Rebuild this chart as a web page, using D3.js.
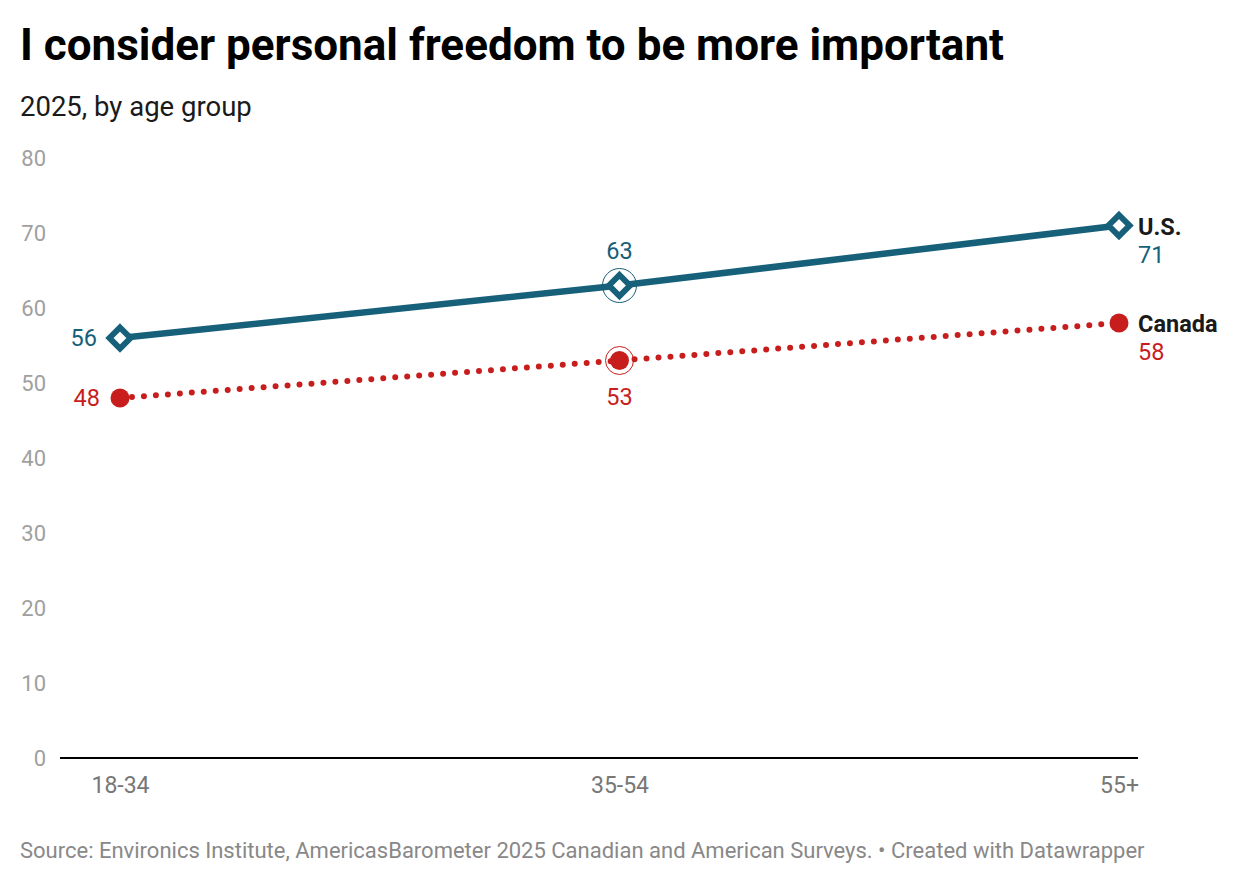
<!DOCTYPE html>
<html><head><meta charset="utf-8">
<script src="https://cdn.jsdelivr.net/npm/d3@7"></script>
<style>body{margin:0;background:#fff;font-family:Roboto,sans-serif;}</style>
</head><body>
<svg id="c" width="1240" height="884"></svg>
<script>
const categories = ["18-34","35-54","55+"];
const usValues = [56,63,71];
const canadaValues = [48,53,58];
const yTicks = [0,10,20,30,40,50,60,70,80];
const title = "I consider personal freedom to be more important";
const subtitle = "2025, by age group";
const source = "Source: Environics Institute, AmericasBarometer 2025 Canadian and American Surveys. • Created with Datawrapper";

const US = "#17607a", CA = "#c71e1d";
const svg = d3.select("#c");
svg.append("text").attr("x",20).attr("y",60).attr("font-size",44).attr("font-weight",700).attr("fill","#000").text(title);
svg.append("text").attr("x",20).attr("y",116).attr("font-size",27.5).attr("fill","#1a1a1a").text(subtitle);
svg.append("text").attr("x",20).attr("y",858).attr("font-size",22).attr("fill","#888").text(source);

const x = d3.scalePoint().domain(categories).range([120,1119]);
const y = d3.scaleLinear().domain([0,80]).range([758,158]);

const yAx = svg.append("g").attr("transform","translate(46,0)")
  .call(d3.axisLeft(y).tickValues(yTicks).tickSize(0).tickPadding(0));
yAx.select(".domain").remove();
yAx.selectAll("text").attr("font-size",22).attr("fill","#a0a0a0").attr("font-family","Roboto");

svg.append("line").attr("x1",60).attr("x2",1138).attr("y1",y(0)).attr("y2",y(0)).attr("stroke","#000").attr("stroke-width",2);

const xAx = svg.append("g").attr("transform",`translate(0,${y(0)+27})`)
  .call(d3.axisBottom(x).tickSize(0).tickPadding(0));
xAx.select(".domain").remove();
xAx.selectAll("text").attr("font-size",23).attr("fill","#777").attr("font-family","Roboto").attr("dy","0.35em");

const line = d3.line().x((d,i)=>x(categories[i])).y(d=>y(d));

svg.append("path").datum(canadaValues).attr("d",line).attr("fill","none").attr("stroke",CA)
  .attr("stroke-width",6).attr("stroke-linecap","round").attr("stroke-dasharray","0 12");
svg.append("path").datum(usValues).attr("d",line).attr("fill","none").attr("stroke",US).attr("stroke-width",6.5);

// Rings on middle points
svg.append("circle").attr("cx",x(categories[1])).attr("cy",y(usValues[1])).attr("r",17).attr("fill","none").attr("stroke",US).attr("stroke-width",1);
svg.append("circle").attr("cx",x(categories[1])).attr("cy",y(canadaValues[1])).attr("r",14).attr("fill","none").attr("stroke",CA).attr("stroke-width",1);

// Canada dots
svg.selectAll(".ca").data(canadaValues).enter().append("circle")
  .attr("cx",(d,i)=>x(categories[i])).attr("cy",d=>y(d)).attr("r",9.5).attr("fill",CA);
// US diamonds
svg.selectAll(".us").data(usValues).enter().append("path")
  .attr("transform",(d,i)=>`translate(${x(categories[i])},${y(d)})`)
  .attr("d","M0,-10.5L10.5,0L0,10.5L-10.5,0Z").attr("fill","#fff").attr("stroke",US).attr("stroke-width",6).attr("stroke-linejoin","miter");

const fs = 23.5;
function lab(t,xx,yy,col,anchor,w){svg.append("text").attr("x",xx).attr("y",yy).attr("font-size",fs).attr("fill",col)
  .attr("text-anchor",anchor).attr("font-weight",w||400).attr("dy","0.35em").text(t);}
lab(usValues[0],x(categories[0])-23,y(usValues[0]),US,"end");
lab(canadaValues[0],x(categories[0])-20,y(canadaValues[0]),CA,"end");
lab(usValues[1],x(categories[1]),y(usValues[1])-35,US,"middle");
lab(canadaValues[1],x(categories[1]),y(canadaValues[1])+36,CA,"middle");
lab("U.S.",1138,y(usValues[2])+1,"#1a1a1a","start",700);
lab(usValues[2],1138,y(usValues[2])+29,US,"start");
lab("Canada",1138,y(canadaValues[2])+1,"#1a1a1a","start",700);
lab(canadaValues[2],1138,y(canadaValues[2])+29,CA,"start");
</script>
</body></html>
